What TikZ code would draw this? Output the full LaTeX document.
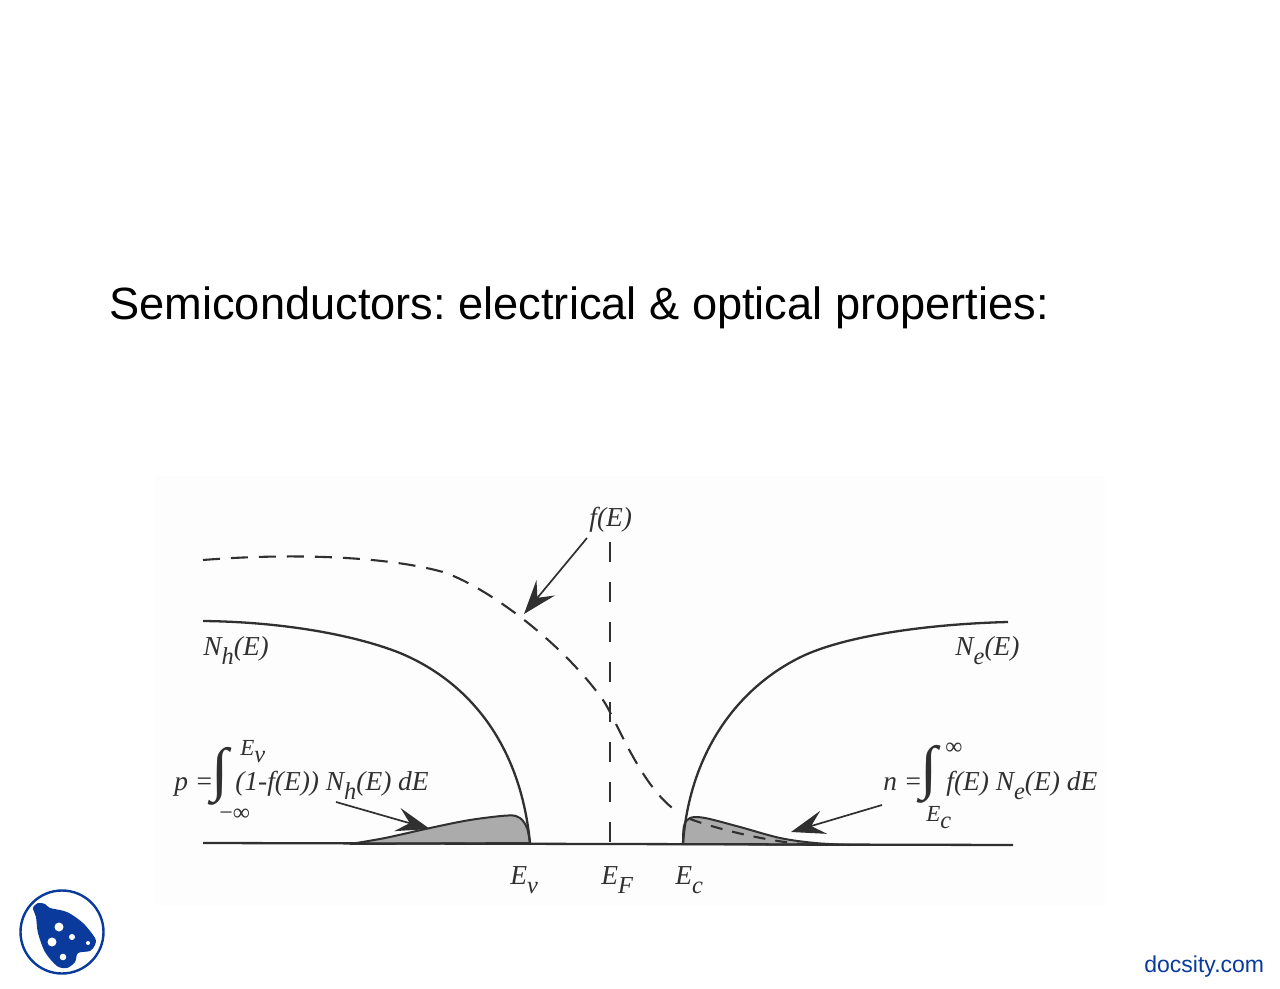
\documentclass[tikz,border=0pt]{standalone}
\usepackage{graphicx}
\usepackage{fontspec}
\setmainfont{Liberation Sans}
\newfontfamily\labelfont{Liberation Serif}
\usetikzlibrary{arrows.meta}
\frenchspacing
\definecolor{inkc}{HTML}{303030}
\definecolor{shadec}{HTML}{ABABAB}
\definecolor{logoc}{HTML}{0A3A9C}
\definecolor{scanc}{HTML}{FDFDFD}
\newcommand{\lowsb}[1]{\raisebox{-0.34em}{\fontsize{12.2}{14}\selectfont #1}}
\newcommand{\tallint}{\resizebox*{8.6pt}{29pt}{\labelfont ∫}}
\tikzset{
  x=0.5pt,y=-0.5pt,
  curve/.style={draw=inkc,line width=1.15pt},
  dashcurve/.style={draw=inkc,line width=1.05pt,dash pattern=on 8.5pt off 5.5pt},
  dashrule/.style={draw=inkc,line width=1.05pt,dash pattern=on 10pt off 10pt},
  lbl/.style={text=inkc,inner sep=0pt,anchor=base west,font=\labelfont\itshape\fontsize{13.7}{15}\selectfont},
  smalllbl/.style={lbl,font=\labelfont\itshape\fontsize{11.5}{12}\selectfont},
  uprightlbl/.style={lbl,font=\labelfont\fontsize{12}{12}\selectfont},
  intsign/.style={text=inkc,inner sep=0pt,anchor=center},
  pointer/.style={draw=inkc,line width=0.85pt,-{Stealth[length=17pt,width=12pt,inset=6.5pt]}},
  shade area/.style={fill=shadec,draw=inkc,line width=1pt},
}
\begin{document}
\begin{tikzpicture}
\useasboundingbox (0,0) rectangle (1280,989);
\fill[white] (0,0) rectangle (1280,989);
\fill[scanc] (155,476) rectangle (1105,905);

\node[anchor=base west,inner sep=0pt,font=\fontsize{22.6}{26}\selectfont] (title) at (109,320) {Semiconductors: electrical \& optical properties:};

% shaded tails
\path[shade area] plot[smooth,tension=0.55] coordinates {(350,844) (385,838) (430,828) (470,820) (508,815.5) (520,818) (527,828) (530,843)} -- cycle;
\path[shade area] plot[smooth,tension=0.55] coordinates {(683,844) (684,826) (690,818) (705,818) (740,827) (780,838) (815,843) (850,845)} -- cycle;

% axis
\draw[curve] (203,843) -- (1013,845);

% density of states
\draw[curve] (203,621) .. controls (290,622) and (360,637) .. (400,653) .. controls (465,680) and (520,740) .. (530,843);
\draw[curve] (683,843) .. controls (690,750) and (740,685) .. (805,655) .. controls (850,635) and (930,624) .. (1008,622);

% Fermi function
\draw[dashcurve] (203,560) .. controls (290,553) and (385,556) .. (443,572) .. controls (485,586) and (560,640) .. (603,700) .. controls (615,717) and (640,785) .. (675,810);
\draw[dashcurve,dash pattern=on 6pt off 5pt] (690,819) .. controls (720,830) and (770,842) .. (812,845);
\draw[dashrule] (610,542) -- (610,843);

% labels
\node[lbl] (fE) at (589,526) {f(E)};
\node[lbl] (Nh) at (203,655) {N\lowsb{h}(E)};
\node[lbl] (Ne) at (955,655) {N\lowsb{e}(E)};
\node[lbl] (pe) at (174,790) {p =};
\node[intsign] (pint) at (220,776) {\tallint};
\node[lbl] (pbody) at (235,790) {(1-f(E)) N\lowsb{h}(E) dE};
\node[smalllbl] (pup) at (240,755) {E\lowsb{v}};
\node[uprightlbl] (plow) at (219,820) {−∞};
\node[lbl] (ne) at (883,790) {n =};
\node[intsign] (nint) at (929,774) {\tallint};
\node[lbl] (nbody) at (946,790) {f(E) N\lowsb{e}(E) dE};
\node[uprightlbl] (nup) at (945,754) {∞};
\node[smalllbl] (nlow) at (926,821) {E\lowsb{c}};
\node[lbl] (Ev) at (510,884) {E\lowsb{v}};
\node[lbl] (EF) at (601,884) {E\lowsb{F}};
\node[lbl] (Ec) at (675,884) {E\lowsb{c}};

% pointers
\coordinate (a1s) at (587,538);
\coordinate (a1e) at (524,614);
\coordinate (a2s) at (336,802);
\coordinate (a2e) at (430,829);
\coordinate (a3s) at (882,805);
\coordinate (a3e) at (791,832);
\draw[pointer] (a1s) -- (a1e);
\draw[pointer] (a2s) -- (a2e);
\draw[pointer] (a3s) -- (a3e);

% logo
\draw[logoc,line width=1.2pt,fill=white] (62,932) circle[radius=41.5];
\fill[logoc] plot[smooth cycle,tension=0.5] coordinates {(33,908) (38,903) (45,904) (50,908) (67,912) (83,923) (95,938) (95,945) (90,951) (78,953) (75,962) (67,968) (57,966) (45,952) (38,933) (36,917)};
\fill[white] (59,927) circle[radius=4.5];
\fill[white] (52,942) circle[radius=4.5];
\fill[white] (72,937) circle[radius=3];
\fill[white] (88,943) circle[radius=2];
\fill[white] (63,957) circle[radius=3.3];

\node[anchor=base west,inner sep=0pt,text=logoc,font=\fontsize{11.5}{13}\selectfont] (brand) at (1144,972) {docsity.com};
\end{tikzpicture}
\end{document}
